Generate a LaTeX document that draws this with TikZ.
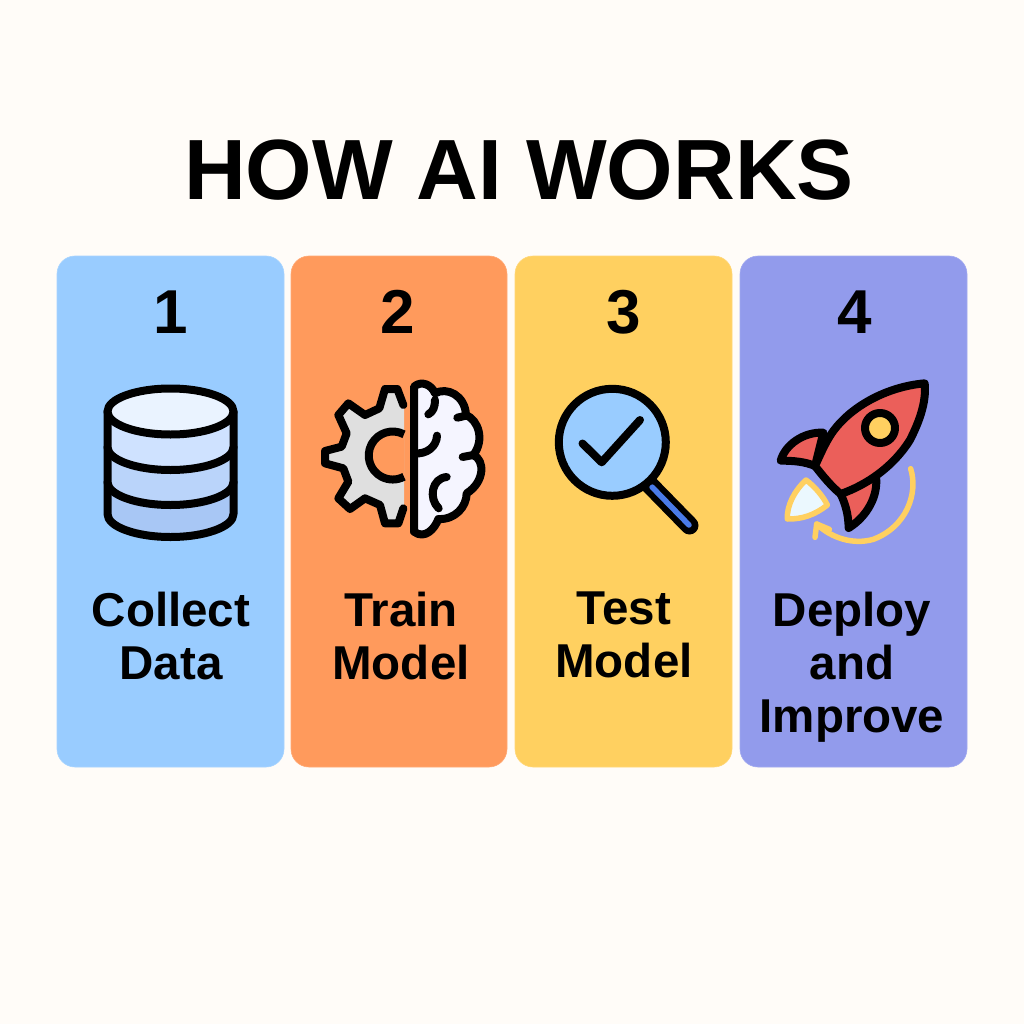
\documentclass[tikz,border=0pt]{standalone}
\usepackage{fontspec}
\setmainfont{Liberation Sans}
\definecolor{paper}{HTML}{FFFCF8}
\definecolor{cardblue}{HTML}{99CCFF}
\definecolor{cardorange}{HTML}{FF9A5C}
\definecolor{cardyellow}{HTML}{FFD060}
\definecolor{cardviolet}{HTML}{929BEC}
\definecolor{rocketred}{HTML}{EB5F5A}
\definecolor{lensblue}{HTML}{99CCFF}
\definecolor{handleblue}{HTML}{4A7BE8}
\definecolor{canone}{HTML}{A8C7F5}
\definecolor{cantwo}{HTML}{BAD4FA}
\definecolor{canthree}{HTML}{CFE2FF}
\definecolor{cantop}{HTML}{EAF3FF}
\tikzset{
  cardbox/.style={rounded corners=18pt, inner sep=0pt, minimum height=511pt, draw=#1!85!white, line width=0.6pt, fill=#1},
  numlabel/.style={font=\fontsize{62}{62}\selectfont\bfseries},
  steplabel/.style={font=\fontsize{47.5}{53}\selectfont\bfseries, align=center, anchor=north},
  icon/.style={draw=black, line width=8pt, line join=round, line cap=round},
  yellowline/.style={draw=cardyellow, line width=5.5pt, line join=round, line cap=round}
}
\begin{document}
\begin{tikzpicture}[x=1pt,y=-1pt]
\useasboundingbox (0,0) rectangle (1024,1024);
\fill[paper] (0,0) rectangle (1024,1024);

\node[font=\fontsize{85.5}{85.5}\selectfont\bfseries] (title) at (519,170) {HOW AI WORKS};

\node[cardbox=cardblue, minimum width=227pt] (c1) at (170.5,511.5) {};
\node[cardbox=cardorange, minimum width=216pt] (c2) at (399,511.5) {};
\node[cardbox=cardyellow, minimum width=217pt] (c3) at (623.5,511.5) {};
\node[cardbox=cardviolet, minimum width=227pt] (c4) at (853.5,511.5) {};

\node[numlabel] (n1) at (171,312) {1};
\node[numlabel] (n2) at (398,312) {2};
\node[numlabel] (n3) at (624,312) {3};
\node[numlabel] (n4) at (855,312) {4};

\node[steplabel] (t1) at (171,588.5) {Collect\\Data};
\node[steplabel] (t2) at (401,588.5) {Train\\Model};
\node[steplabel] (t3) at (624,588.5) {Test\\Model};
\node[steplabel] (t4) at (852,588.5) {Deploy\\and\\Improve};

% database
\path[icon, fill=canone] (107.5,482) -- (107.5,514) arc[start angle=180, end angle=0, x radius=63, y radius=23] -- (233.5,482) -- cycle;
\path[icon, fill=cantwo] (107.5,447) -- (107.5,482) arc[start angle=180, end angle=0, x radius=63, y radius=23] -- (233.5,447) -- cycle;
\path[icon, fill=canthree] (107.5,411.5) -- (107.5,447) arc[start angle=180, end angle=0, x radius=63, y radius=23] -- (233.5,411.5) -- cycle;
\path[icon, fill=cantop] (170.5,411.5) ellipse[x radius=63, y radius=23];

% gear and brain
\begin{scope}[shift={(310,365)}, scale=1/3]
\fill[gray!25] (282,120) -- (262,72) -- (225,72) -- (208,130) -- (165,150) -- (115,115) -- (85,150) -- (110,205) -- (95,245) -- (45,258) -- (45,295) -- (100,310) -- (115,350) -- (85,400) -- (120,432) -- (165,400) -- (210,420) -- (225,475) -- (265,475) -- (282,430) -- cycle;
\draw[icon] (280,120) -- (262,72) -- (225,72) -- (208,130) -- (165,150) -- (115,115) -- (85,150) -- (110,205) -- (95,245) -- (45,258) -- (45,295) -- (100,310) -- (115,350) -- (85,400) -- (120,432) -- (165,400) -- (210,420) -- (225,475) -- (265,475) -- (280,430);
\fill[cardorange] (282,208) arc[start angle=-62, end angle=-298, radius=72] -- cycle;
\draw[icon, line cap=butt] (282,208) arc[start angle=-62, end angle=-298, radius=72];
\path[icon, fill=blue!4!white] (312,65) .. controls (335,45) and (365,60) .. (375,85)
  .. controls (410,65) and (465,90) .. (468,150)
  .. controls (505,165) and (525,225) .. (490,270)
  .. controls (525,285) and (525,350) .. (470,385)
  .. controls (470,425) and (435,465) .. (385,462)
  .. controls (375,490) and (345,525) .. (312,500) -- cycle;
\draw[icon] (375,105) .. controls (375,125) and (370,140) .. (355,148);
\draw[icon] (442,158) -- (468,152);
\draw[icon] (381,212) .. controls (380,245) and (350,268) .. (315,265);
\draw[icon] (458,276) -- (490,270);
\draw[icon] (410,336) .. controls (365,340) and (355,400) .. (386,430);
\end{scope}

% magnifier
\draw[line width=18pt, line cap=round] (645,480) -- (689.5,525.5);
\draw[handleblue, line width=5.5pt, line cap=round] (652,487) -- (689,525);
\path[icon, fill=lensblue] (612.3,442.3) circle[radius=53.5];
\draw[icon] (582.5,443.5) -- (601.7,462.3) -- (640,420);

% rocket
\begin{scope}[shift={(770,370)}, scale=1/3]
\path[icon, fill=rocketred] (160,188) .. controls (100,185) and (45,225) .. (32,272) .. controls (70,272) and (105,275) .. (135,288) -- cycle;
\path[icon, fill=rocketred] (318,320) .. controls (325,380) and (290,440) .. (236,474) .. controls (235,430) and (225,400) .. (212,372) -- cycle;
\path[icon, fill=rocketred] (464,40) .. controls (350,50) and (240,110) .. (185,190) .. controls (165,220) and (150,255) .. (135,288) .. controls (160,320) and (185,350) .. (212,372) .. controls (290,345) and (370,290) .. (420,210) .. controls (445,160) and (470,100) .. (464,40) -- cycle;
\path[icon, fill=cardyellow] (330,174) circle[radius=45];
\path[yellowline, fill=cyan!8!white] (108,330) .. controls (135,350) and (160,380) .. (172,405) .. controls (135,435) and (95,448) .. (52,447) .. controls (50,405) and (75,360) .. (108,330) -- cycle;
\draw[yellowline] (422,296) .. controls (445,370) and (410,470) .. (310,508) .. controls (250,525) and (185,505) .. (140,462);
\draw[yellowline] (135,502) -- (140,462) -- (178,478);
\end{scope}
\end{tikzpicture}
\end{document}
